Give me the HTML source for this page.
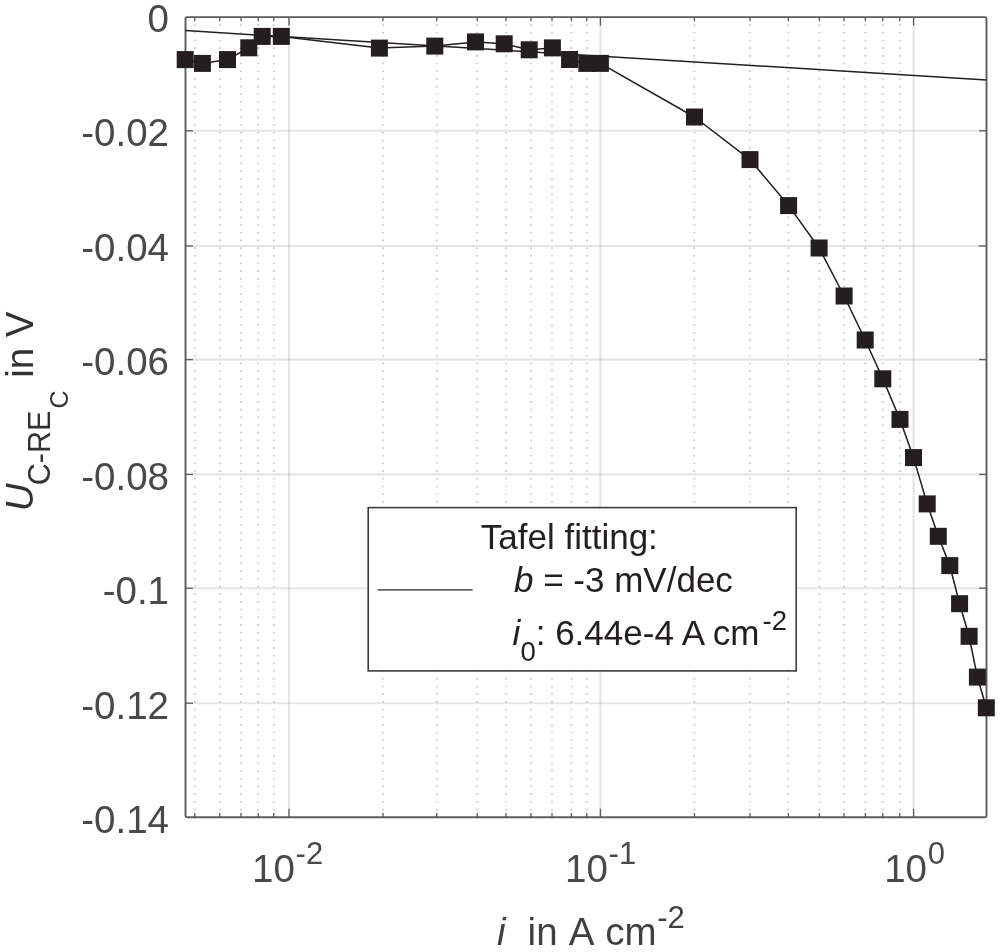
<!DOCTYPE html>
<html lang="en"><head><meta charset="utf-8"><title>Tafel plot</title>
<style>html,body{margin:0;padding:0;background:#fff}svg{display:block}text{font-family:"Liberation Sans",sans-serif;fill:#48494b}.it{font-style:italic}.lg{fill:#231f20}.xl text{fill:#3f4042}.yl text{fill:#323234}</style>
</head><body>
<svg width="1000" height="952" viewBox="0 0 1000 952">
<rect width="1000" height="952" fill="#fff"/>
<g stroke="#c0c1c4" stroke-width="1.6" stroke-dasharray="1.6 6.09" stroke-dashoffset="0.5" fill="none">
<line x1="194.8" y1="17.1" x2="194.8" y2="817.2"/>
<line x1="219.8" y1="17.1" x2="219.8" y2="817.2"/>
<line x1="241.0" y1="17.1" x2="241.0" y2="817.2"/>
<line x1="258.2" y1="17.1" x2="258.2" y2="817.2"/>
<line x1="273.7" y1="17.1" x2="273.7" y2="817.2"/>
<line x1="383.0" y1="17.1" x2="383.0" y2="817.2"/>
<line x1="436.7" y1="17.1" x2="436.7" y2="817.2"/>
<line x1="477.2" y1="17.1" x2="477.2" y2="817.2"/>
<line x1="506.0" y1="17.1" x2="506.0" y2="817.2"/>
<line x1="531.0" y1="17.1" x2="531.0" y2="817.2"/>
<line x1="552.0" y1="17.1" x2="552.0" y2="817.2"/>
<line x1="571.4" y1="17.1" x2="571.4" y2="817.2"/>
<line x1="586.8" y1="17.1" x2="586.8" y2="817.2"/>
<line x1="694.4" y1="17.1" x2="694.4" y2="817.2"/>
<line x1="750.0" y1="17.1" x2="750.0" y2="817.2"/>
<line x1="788.4" y1="17.1" x2="788.4" y2="817.2"/>
<line x1="819.4" y1="17.1" x2="819.4" y2="817.2"/>
<line x1="844.0" y1="17.1" x2="844.0" y2="817.2"/>
<line x1="865.4" y1="17.1" x2="865.4" y2="817.2"/>
<line x1="882.8" y1="17.1" x2="882.8" y2="817.2"/>
<line x1="899.8" y1="17.1" x2="899.8" y2="817.2"/>
</g>
<g stroke="#1e1e22" stroke-opacity="0.118" stroke-width="2.1" fill="none">
<line x1="289.0" y1="17.1" x2="289.0" y2="817.2"/>
<line x1="600.4" y1="17.1" x2="600.4" y2="817.2"/>
<line x1="913.6" y1="17.1" x2="913.6" y2="817.2"/>
<line x1="185.5" y1="130.8" x2="986.5" y2="130.8"/>
<line x1="185.5" y1="246.0" x2="986.5" y2="246.0"/>
<line x1="185.5" y1="359.6" x2="986.5" y2="359.6"/>
<line x1="185.5" y1="474.4" x2="986.5" y2="474.4"/>
<line x1="185.5" y1="588.2" x2="986.5" y2="588.2"/>
<line x1="185.5" y1="703.2" x2="986.5" y2="703.2"/>
</g>
<g stroke="#5a5c5f" stroke-width="1.3" fill="none">
<line x1="194.8" y1="817.2" x2="194.8" y2="813.0"/>
<line x1="194.8" y1="17.1" x2="194.8" y2="21.3"/>
<line x1="219.8" y1="817.2" x2="219.8" y2="813.0"/>
<line x1="219.8" y1="17.1" x2="219.8" y2="21.3"/>
<line x1="241.0" y1="817.2" x2="241.0" y2="813.0"/>
<line x1="241.0" y1="17.1" x2="241.0" y2="21.3"/>
<line x1="258.2" y1="817.2" x2="258.2" y2="813.0"/>
<line x1="258.2" y1="17.1" x2="258.2" y2="21.3"/>
<line x1="273.7" y1="817.2" x2="273.7" y2="813.0"/>
<line x1="273.7" y1="17.1" x2="273.7" y2="21.3"/>
<line x1="383.0" y1="817.2" x2="383.0" y2="813.0"/>
<line x1="383.0" y1="17.1" x2="383.0" y2="21.3"/>
<line x1="436.7" y1="817.2" x2="436.7" y2="813.0"/>
<line x1="436.7" y1="17.1" x2="436.7" y2="21.3"/>
<line x1="477.2" y1="817.2" x2="477.2" y2="813.0"/>
<line x1="477.2" y1="17.1" x2="477.2" y2="21.3"/>
<line x1="506.0" y1="817.2" x2="506.0" y2="813.0"/>
<line x1="506.0" y1="17.1" x2="506.0" y2="21.3"/>
<line x1="531.0" y1="817.2" x2="531.0" y2="813.0"/>
<line x1="531.0" y1="17.1" x2="531.0" y2="21.3"/>
<line x1="552.0" y1="817.2" x2="552.0" y2="813.0"/>
<line x1="552.0" y1="17.1" x2="552.0" y2="21.3"/>
<line x1="571.4" y1="817.2" x2="571.4" y2="813.0"/>
<line x1="571.4" y1="17.1" x2="571.4" y2="21.3"/>
<line x1="586.8" y1="817.2" x2="586.8" y2="813.0"/>
<line x1="586.8" y1="17.1" x2="586.8" y2="21.3"/>
<line x1="694.4" y1="817.2" x2="694.4" y2="813.0"/>
<line x1="694.4" y1="17.1" x2="694.4" y2="21.3"/>
<line x1="750.0" y1="817.2" x2="750.0" y2="813.0"/>
<line x1="750.0" y1="17.1" x2="750.0" y2="21.3"/>
<line x1="788.4" y1="817.2" x2="788.4" y2="813.0"/>
<line x1="788.4" y1="17.1" x2="788.4" y2="21.3"/>
<line x1="819.4" y1="817.2" x2="819.4" y2="813.0"/>
<line x1="819.4" y1="17.1" x2="819.4" y2="21.3"/>
<line x1="844.0" y1="817.2" x2="844.0" y2="813.0"/>
<line x1="844.0" y1="17.1" x2="844.0" y2="21.3"/>
<line x1="865.4" y1="817.2" x2="865.4" y2="813.0"/>
<line x1="865.4" y1="17.1" x2="865.4" y2="21.3"/>
<line x1="882.8" y1="817.2" x2="882.8" y2="813.0"/>
<line x1="882.8" y1="17.1" x2="882.8" y2="21.3"/>
<line x1="899.8" y1="817.2" x2="899.8" y2="813.0"/>
<line x1="899.8" y1="17.1" x2="899.8" y2="21.3"/>
<line x1="289.0" y1="817.2" x2="289.0" y2="808.7"/>
<line x1="289.0" y1="17.1" x2="289.0" y2="25.6"/>
<line x1="600.4" y1="817.2" x2="600.4" y2="808.7"/>
<line x1="600.4" y1="17.1" x2="600.4" y2="25.6"/>
<line x1="913.6" y1="817.2" x2="913.6" y2="808.7"/>
<line x1="913.6" y1="17.1" x2="913.6" y2="25.6"/>
<line x1="185.5" y1="130.8" x2="193.0" y2="130.8"/>
<line x1="986.5" y1="130.8" x2="979.0" y2="130.8"/>
<line x1="185.5" y1="246.0" x2="193.0" y2="246.0"/>
<line x1="986.5" y1="246.0" x2="979.0" y2="246.0"/>
<line x1="185.5" y1="359.6" x2="193.0" y2="359.6"/>
<line x1="986.5" y1="359.6" x2="979.0" y2="359.6"/>
<line x1="185.5" y1="474.4" x2="193.0" y2="474.4"/>
<line x1="986.5" y1="474.4" x2="979.0" y2="474.4"/>
<line x1="185.5" y1="588.2" x2="193.0" y2="588.2"/>
<line x1="986.5" y1="588.2" x2="979.0" y2="588.2"/>
<line x1="185.5" y1="703.2" x2="193.0" y2="703.2"/>
<line x1="986.5" y1="703.2" x2="979.0" y2="703.2"/>
</g>
<rect x="185.5" y="17.1" width="801.0" height="800.1" fill="none" stroke="#5a5c5f" stroke-width="1.9" rx="1.5"/>
<line x1="185.5" y1="30.6" x2="986.5" y2="79.9" stroke="#231f20" stroke-width="1.5"/>
<polyline fill="none" stroke="#231f20" stroke-width="1.55" stroke-linejoin="round" points="185.2,59.6 202.4,63.4 227.5,59.6 248.8,47.8 262.2,36.4 281.3,36.4 379.4,48.1 434.8,46.1 475.5,41.9 504.2,43.8 529.2,49.8 552.4,47.9 569.6,59.5 586.8,63.4 600.4,63.4 694.5,117.0 750.0,159.6 788.6,205.6 819.1,248.0 844.1,296.0 865.2,340.0 882.8,378.8 900.0,419.4 913.5,457.6 927.2,503.9 938.3,536.3 949.8,565.6 959.6,603.7 969.1,636.3 977.4,677.1 986.3,707.8"/>
<g fill="#231f20">
<rect x="176.7" y="51.1" width="17.0" height="17.0"/>
<rect x="193.9" y="54.9" width="17.0" height="17.0"/>
<rect x="219.0" y="51.1" width="17.0" height="17.0"/>
<rect x="240.3" y="39.3" width="17.0" height="17.0"/>
<rect x="253.7" y="27.9" width="17.0" height="17.0"/>
<rect x="272.8" y="27.9" width="17.0" height="17.0"/>
<rect x="370.9" y="39.6" width="17.0" height="17.0"/>
<rect x="426.3" y="37.6" width="17.0" height="17.0"/>
<rect x="467.0" y="33.4" width="17.0" height="17.0"/>
<rect x="495.7" y="35.3" width="17.0" height="17.0"/>
<rect x="520.7" y="41.3" width="17.0" height="17.0"/>
<rect x="543.9" y="39.4" width="17.0" height="17.0"/>
<rect x="561.1" y="51.0" width="17.0" height="17.0"/>
<rect x="578.3" y="54.9" width="17.0" height="17.0"/>
<rect x="591.9" y="54.9" width="17.0" height="17.0"/>
<rect x="686.0" y="108.5" width="17.0" height="17.0"/>
<rect x="741.5" y="151.1" width="17.0" height="17.0"/>
<rect x="780.1" y="197.1" width="17.0" height="17.0"/>
<rect x="810.6" y="239.5" width="17.0" height="17.0"/>
<rect x="835.6" y="287.5" width="17.0" height="17.0"/>
<rect x="856.7" y="331.5" width="17.0" height="17.0"/>
<rect x="874.3" y="370.3" width="17.0" height="17.0"/>
<rect x="891.5" y="410.9" width="17.0" height="17.0"/>
<rect x="905.0" y="449.1" width="17.0" height="17.0"/>
<rect x="918.7" y="495.4" width="17.0" height="17.0"/>
<rect x="929.8" y="527.8" width="17.0" height="17.0"/>
<rect x="941.3" y="557.1" width="17.0" height="17.0"/>
<rect x="951.1" y="595.2" width="17.0" height="17.0"/>
<rect x="960.6" y="627.8" width="17.0" height="17.0"/>
<rect x="968.9" y="668.6" width="17.0" height="17.0"/>
<rect x="977.8" y="699.3" width="17.0" height="17.0"/>
</g>
<rect x="368.2" y="507.6" width="428" height="163.3" fill="#fff" stroke="#363638" stroke-width="1.55"/>
<line x1="377.8" y1="589.8" x2="472.6" y2="589.8" stroke="#231f20" stroke-width="1.3"/>
<text class="lg" x="480.8" y="548.9" font-size="35.0">Tafel fitting:</text>
<text class="lg" x="514.0" y="592.1" font-size="35.0"><tspan class="it">b</tspan> = -3 mV/dec</text>
<text class="lg it" x="512.5" y="644.6" font-size="35.0">i</text>
<text class="lg" x="520.5" y="660.5" font-size="27.6">0</text>
<text class="lg" x="535.7" y="644.6" font-size="35.0">: 6.44e-4 A cm</text>
<text class="lg" x="762.5" y="629.6" font-size="27.6">-2</text>
<text x="169" y="31.9" font-size="38.5" text-anchor="end">0</text>
<text x="169" y="146.4" font-size="38.5" text-anchor="end">-0.02</text>
<text x="169" y="260.9" font-size="38.5" text-anchor="end">-0.04</text>
<text x="169" y="375.4" font-size="38.5" text-anchor="end">-0.06</text>
<text x="169" y="489.9" font-size="38.5" text-anchor="end">-0.08</text>
<text x="169" y="604.4" font-size="38.5" text-anchor="end">-0.1</text>
<text x="169" y="718.9" font-size="38.5" text-anchor="end">-0.12</text>
<text x="169" y="833.4" font-size="38.5" text-anchor="end">-0.14</text>
<text x="252.0" y="881.8" font-size="38.5">10</text>
<text x="295.6" y="864.4" font-size="31">-2</text>
<text x="565.0" y="881.8" font-size="38.5">10</text>
<text x="608.6" y="864.4" font-size="31">-1</text>
<text x="884.2" y="881.8" font-size="38.5">10</text>
<text x="927.8" y="864.4" font-size="31">0</text>
<g class="xl">
<text x="497" y="944.8" font-size="38.5" class="it">i</text>
<text x="527.6" y="944.8" font-size="38.5">in</text>
<text x="568.7" y="944.8" font-size="38.5">A</text>
<text x="605.2" y="944.8" font-size="38.5">cm</text>
<text x="657.3" y="927.6" font-size="31">-2</text>
</g>
<g class="yl" transform="translate(33,511.3) rotate(-90)">
<text x="0" y="0" font-size="38.5" class="it">U</text>
<text x="26" y="17.4" font-size="30.5">C-RE</text>
<text x="102.8" y="34.5" font-size="25">C</text>
<text x="133.5" y="0" font-size="38.5">in V</text>
</g>
</svg>
</body></html>
